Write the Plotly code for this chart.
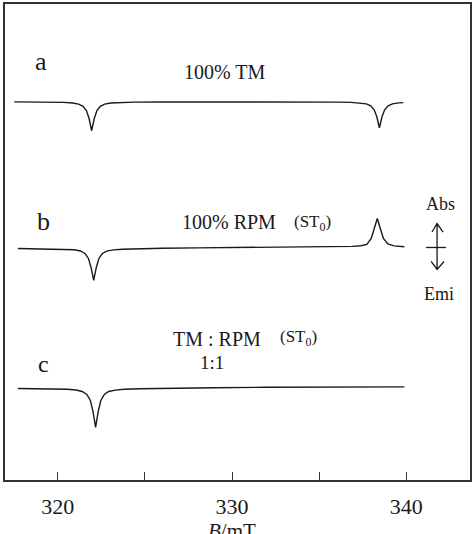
import plotly.graph_objects as go

# magnetic field (mT) and signal (arbitrary units, baseline = 0)
B_a = [317.5, 318.6, 319.4, 320.35, 320.85, 321.2, 321.45, 321.65, 321.8, 321.94,
       322.09, 322.24, 322.44, 322.69, 323.05, 323.55, 324.4, 326.0, 328.0, 330.0,
       332.0, 334.0, 335.2, 336.0, 336.85, 337.35, 337.71, 337.96, 338.16, 338.31,
       338.46, 338.61, 338.76, 338.96, 339.21, 339.56, 339.83]
I_a = [-0.1, -0.2, -0.35, -0.6, -1.2, -2.3, -4.5, -9, -17, -29,
       -17, -9, -4.5, -2.3, -1.2, -0.6, -0.3, -0.15, -0.05, 0,
       0, 0, -0.1, -0.3, -0.6, -1.1, -2.1, -4, -8, -15,
       -26, -15, -8, -4, -2.1, -1.1, -0.8]

B_b = [317.71, 318.6, 319.5, 320.45, 320.95, 321.3, 321.56, 321.76, 321.91, 322.06,
       322.21, 322.36, 322.56, 322.81, 323.2, 323.7, 324.6, 326.0, 328.0, 330.0,
       332.0, 334.0, 335.3, 336.1, 336.9, 337.4, 337.74, 337.99, 338.17, 338.34,
       338.51, 338.69, 338.94, 339.3, 339.89]
I_b = [0, -0.2, -0.4, -0.7, -1.3, -2.5, -5, -10, -19, -32,
       -19, -10, -5, -2.6, -1.4, -0.7, -0.2, 0.3, 0.6, 0.9,
       1.1, 1.3, 1.5, 1.8, 2.1, 2.8, 4, 10, 20, 30,
       20, 10, 4.5, 2.6, 1.8]

B_c = [317.71, 318.7, 319.6, 320.55, 321.05, 321.4, 321.67, 321.87, 322.02, 322.17,
       322.32, 322.47, 322.67, 322.92, 323.3, 323.8, 324.7, 326.5, 329.0, 332.0,
       335.0, 337.5, 339.89]
I_c = [0, -0.2, -0.4, -0.8, -1.5, -3, -6, -12, -23, -39,
       -23, -12, -6, -3, -1.6, -0.8, -0.3, 0.3, 0.8, 1.2,
       1.5, 1.6, 1.6]

tick_vals = [320, 330, 340]
minor_vals = [325, 335]

# vertical stacking of the three spectra
offsets = {"a": 379, "b": 232, "c": 91.7}

INK = "#1a1a1a"
SERIF = "Liberation Serif"

fig = go.Figure()
for name, B, I in [("a", B_a, I_a), ("b", B_b, I_b), ("c", B_c, I_c)]:
    fig.add_trace(go.Scatter(
        x=B, y=[v + offsets[name] for v in I],
        mode="lines", line=dict(color=INK, width=1.4),
        showlegend=False, hoverinfo="skip"))

labels = [
    ("a", 319.03, 419, 26),
    ("100% TM", 329.6, 409, 20),
    ("b", 319.2, 259, 26),
    ("100% RPM", 329.83, 259, 20),
    ("(ST<sub>0</sub>)", 334.6, 258, 17),
    ("Abs", 341.94, 277, 18),
    ("Emi", 341.88, 186, 18),
    ("TM : RPM", 329.14, 141, 20),
    ("(ST<sub>0</sub>)", 333.8, 142, 17),
    ("1:1", 328.86, 118, 19),
    ("c", 319.2, 116, 24),
]
for text, x, y, size in labels:
    fig.add_annotation(x=x, y=y, text=text, showarrow=False,
                       font=dict(family=SERIF, size=size, color=INK))

fig.add_annotation(x=330, y=-0.078, xref="x", yref="paper", yanchor="top",
                   text="<i>B</i>/mT", showarrow=False,
                   font=dict(family=SERIF, size=21, color=INK))

# Abs / Emi double arrow with a crossbar
fig.add_shape(type="path", xref="x", yref="y",
              path="M 341.77,257 L 341.77,211 "
                   "M 341.48,248.5 L 341.77,257 L 342.11,248.5 "
                   "M 341.43,219 L 341.77,211 L 342.17,219",
              line=dict(color=INK, width=1.3))
fig.add_shape(type="line", xref="x", yref="y", x0=341.14, x1=342.28, y0=233, y1=233,
              line=dict(color=INK, width=1.3))

fig.update_xaxes(range=[316.97, 343.66], showline=True, mirror=True,
                 linecolor="#333", linewidth=1.6, ticks="inside", ticklen=8,
                 tickwidth=1.4, tickcolor="#333", tickvals=tick_vals,
                 minor=dict(tickvals=minor_vals, ticks="inside", ticklen=8,
                            tickwidth=1.4, tickcolor="#333", showgrid=False),
                 showgrid=False, zeroline=False, ticklabelstandoff=6,
                 tickfont=dict(family=SERIF, size=22, color=INK))
fig.update_yaxes(range=[0, 477], showline=True, mirror=True,
                 linecolor="#333", linewidth=1.6, showticklabels=False,
                 ticks="", showgrid=False, zeroline=False)

fig.update_layout(width=474, height=534,
                  margin=dict(l=5, r=2, t=3, b=54),
                  plot_bgcolor="white", paper_bgcolor="white")

fig.write_html("out.html", config={"displayModeBar": False},
               post_script="document.body.style.margin='0';"
                           "document.body.style.overflow='hidden';")
